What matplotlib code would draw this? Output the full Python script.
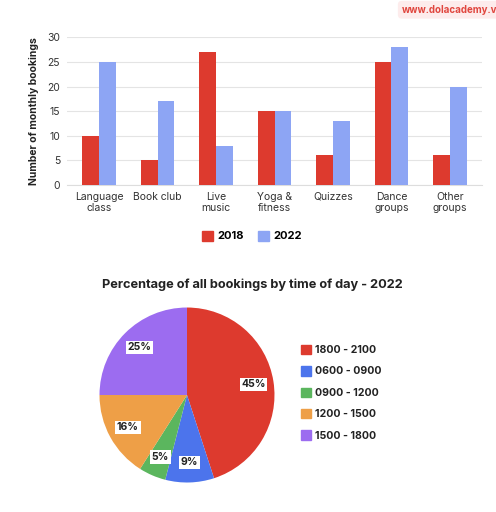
import matplotlib
matplotlib.use("Agg")
import matplotlib.pyplot as plt
import numpy as np
from matplotlib.patches import Patch

plt.rcParams['font.family'] = ['Inter', 'DejaVu Sans']

# bar chart data
categories = ["Language\nclass", "Book club", "Live\nmusic", "Yoga &\nfitness",
              "Quizzes", "Dance\ngroups", "Other\ngroups"]
bookings_2018 = [10, 5, 27, 15, 6, 25, 6]
bookings_2022 = [25, 17, 8, 15, 13, 28, 20]

# pie chart data
time_slots = ["1800 - 2100", "0600 - 0900", "0900 - 1200", "1200 - 1500", "1500 - 1800"]
shares = [45, 9, 5, 16, 25]

red = "#DD3A2E"
blue = "#8DA5F4"
pie_colors = ["#DD3A2E", "#4C74EC", "#5BB65E", "#EE9F47", "#9C6CF0"]

fig = plt.figure(figsize=(4.96, 5.12), dpi=100)

# ---- bar chart
ax = fig.add_axes([0.135, 0.639, 0.837, 0.288])
x = np.arange(len(categories))
w = 0.285
ax.bar(x - w / 2, bookings_2018, w, color=red, label="2018", zorder=3)
ax.bar(x + w / 2, bookings_2022, w, color=blue, label="2022", zorder=3)
ax.set_xlim(-0.55, len(categories) - 0.45)
ax.set_ylim(0, 30)
ax.set_yticks([0, 5, 10, 15, 20, 25, 30])
ax.set_xticks(x)
ax.set_xticklabels(categories, fontsize=7.5, color="#333333", linespacing=1.1)
ax.tick_params(axis="y", labelsize=7.5, colors="#333333", length=0, pad=5)
ax.tick_params(axis="x", length=0, pad=5)
ax.grid(axis="y", color="#E4E4E4", linewidth=0.8, zorder=0)
for s in ["top", "right", "left"]:
    ax.spines[s].set_visible(False)
ax.spines["bottom"].set_color("#DDDDDD")
ax.set_ylabel("Number of monthly bookings", fontsize=7.5, fontweight="bold",
              color="#222222", labelpad=6)
fig.legend(handles=[Patch(color=red, label="2018"), Patch(color=blue, label="2022")],
           loc="center", bbox_to_anchor=(0.508, 0.539), ncol=2, frameon=False,
           prop={"weight": "bold", "size": 8}, handlelength=1.0, handleheight=1.0,
           handletextpad=0.4, columnspacing=1.2)

# ---- pie chart
fig.text(0.508, 0.443, "Percentage of all bookings by time of day - 2022",
         ha="center", va="center", fontsize=9.2, fontweight="bold", color="#222222")

pax = fig.add_axes([0.2006, 0.0576, 0.3528, 0.3418])
wedges, texts, autotexts = pax.pie(
    shares, colors=pie_colors, startangle=90, counterclock=False,
    autopct="%d%%", pctdistance=0.77, radius=1.0)
for t in autotexts:
    t.set_fontsize(7.5)
    t.set_fontweight("bold")
    t.set_color("#222222")
    t.set_bbox(dict(facecolor="white", edgecolor="none", pad=1.2))
pax.set_xlim(-1, 1)
pax.set_ylim(-1, 1)
pax.set_aspect("equal")

fig.legend(handles=[Patch(color=c, label=l) for c, l in zip(pie_colors, time_slots)],
           loc="center left", bbox_to_anchor=(0.587, 0.233), frameon=False,
           prop={"weight": "bold", "size": 7.6}, handlelength=1.0, handleheight=1.0,
           handletextpad=0.35, labelspacing=1.05, labelcolor="#222222")

# watermark
fig.text(0.81, 0.981, "www.dolacademy.v", ha="left", va="center", fontsize=7,
         fontweight="bold", color="#E0463E",
         bbox=dict(boxstyle="round,pad=0.4", facecolor="#FDECEC", edgecolor="none"))

fig.savefig("out.png", dpi=100)
